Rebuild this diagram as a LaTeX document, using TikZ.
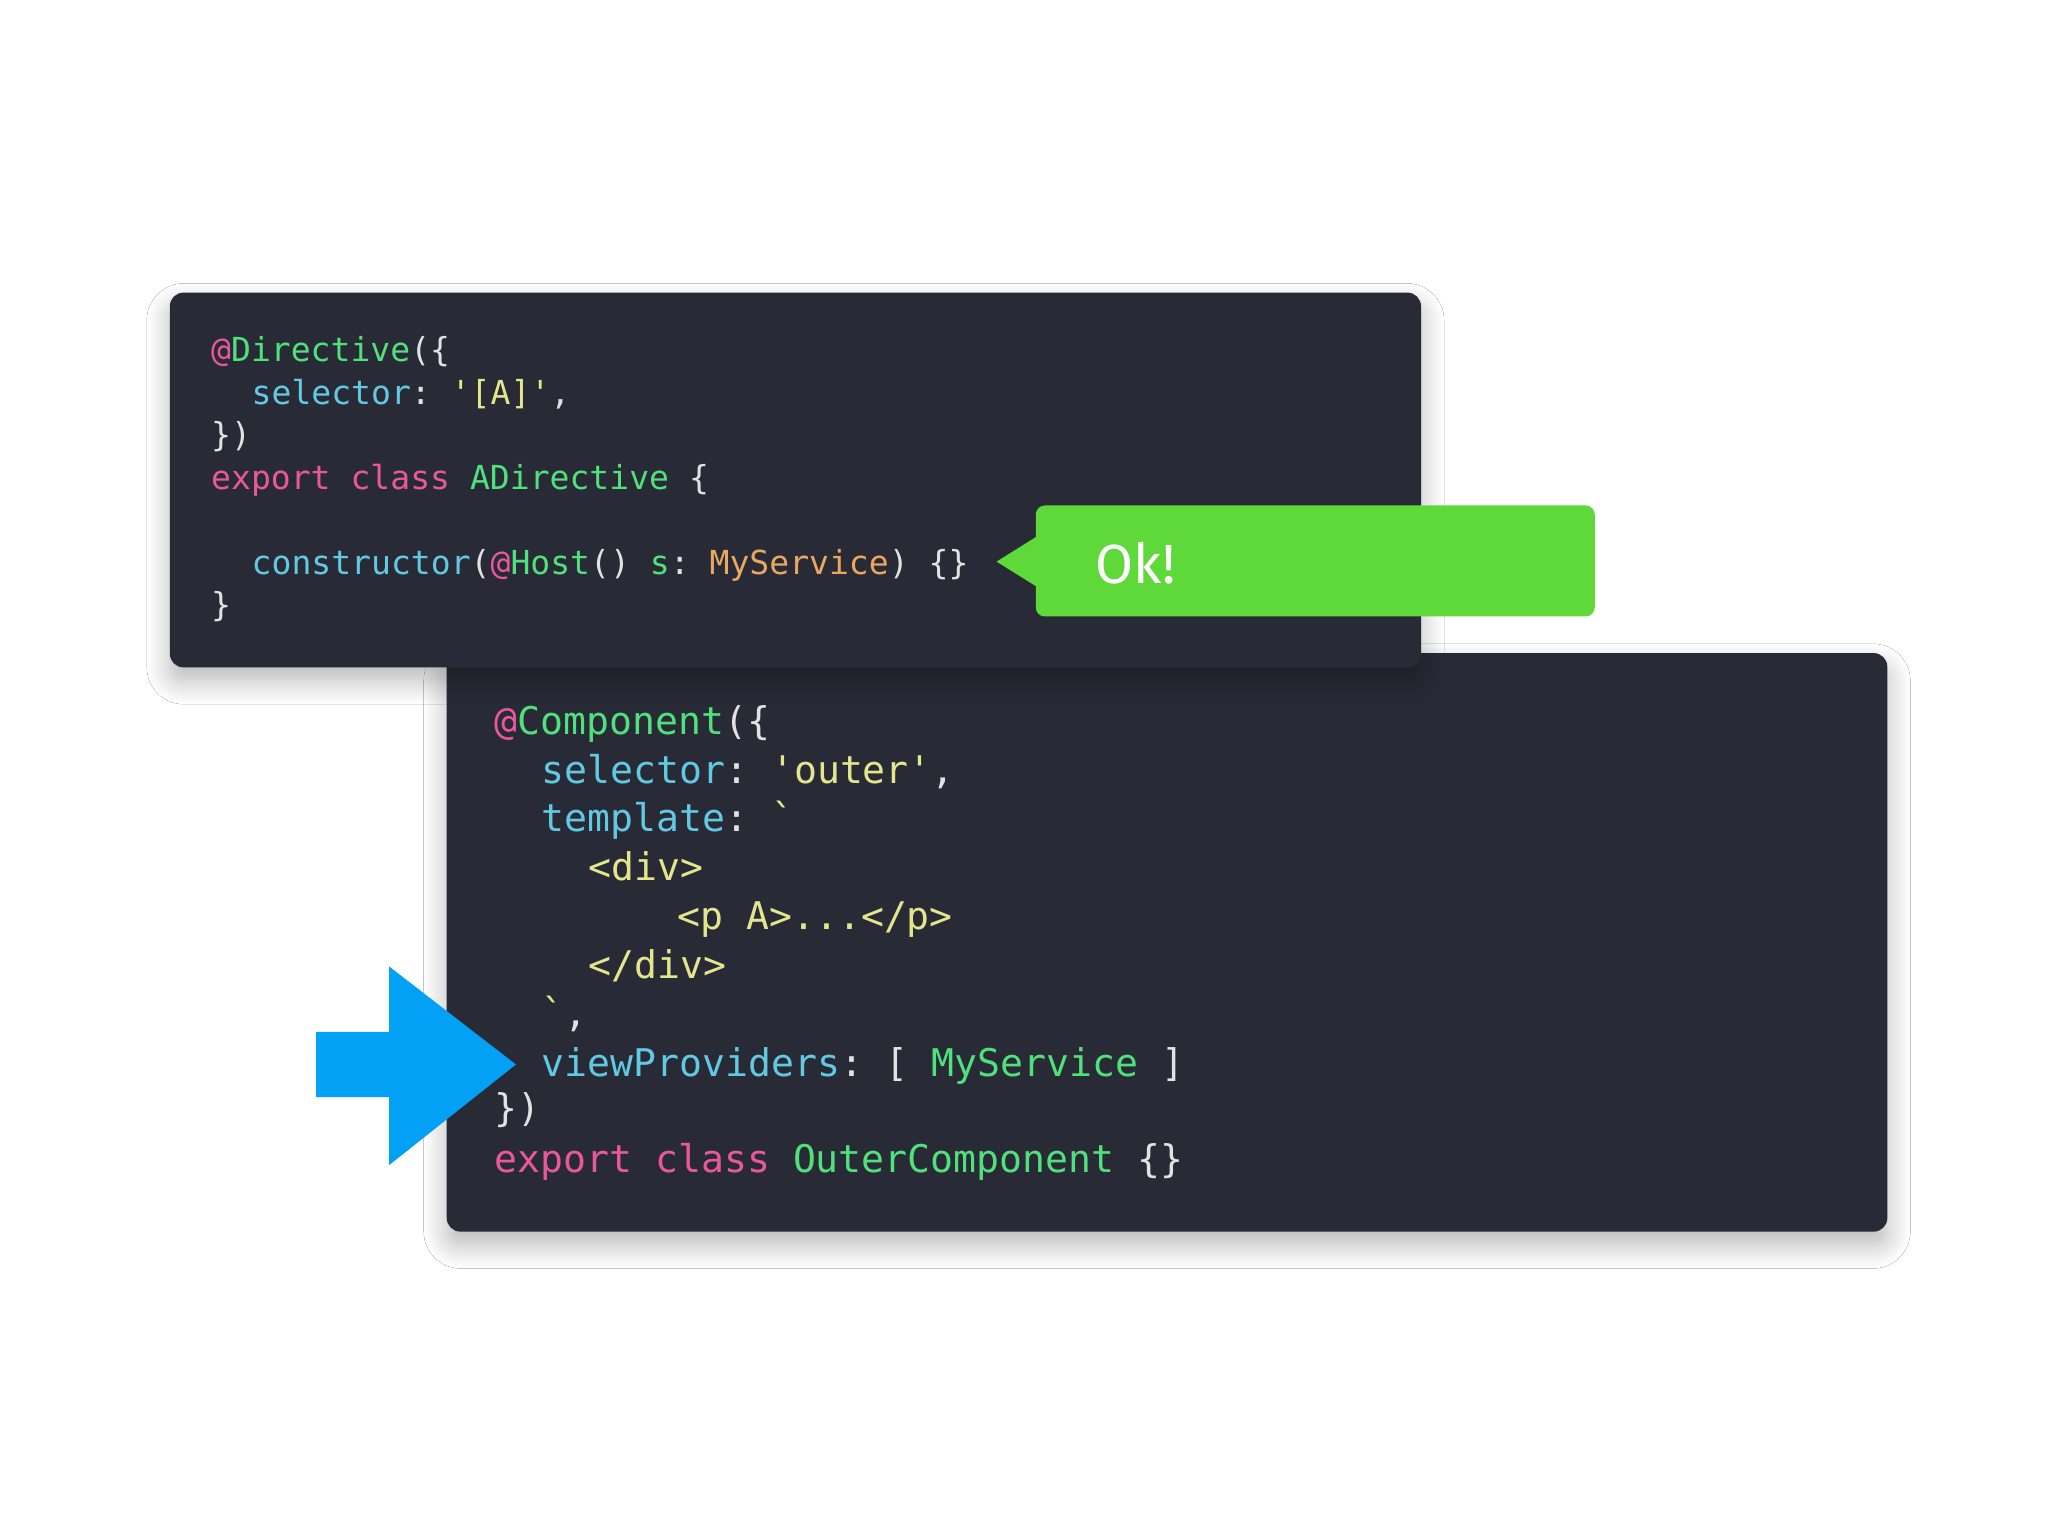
\documentclass[tikz,border=0pt]{standalone}
\usepackage{fontspec}
\setmonofont{DejaVu Sans Mono}
\setsansfont{Fira Sans}
\usetikzlibrary{shadows.blur}
\definecolor{bg}{HTML}{282A36}
\definecolor{cpk}{HTML}{E9579C}
\definecolor{cgr}{HTML}{50E07C}
\definecolor{ccy}{HTML}{62C9E2}
\definecolor{cye}{HTML}{E3E68C}
\definecolor{cor}{HTML}{E8A862}
\definecolor{cwh}{HTML}{E2E2E2}
\definecolor{okg}{HTML}{5FD83A}
\definecolor{arb}{HTML}{03A1F6}
\newcommand{\kPk}[1]{\textcolor{cpk}{#1}}
\newcommand{\kGr}[1]{\textcolor{cgr}{#1}}
\newcommand{\kCy}[1]{\textcolor{ccy}{#1}}
\newcommand{\kYe}[1]{\textcolor{cye}{#1}}
\newcommand{\kOr}[1]{\textcolor{cor}{#1}}
\newcommand{\kq}{\symbol{39}}
\newcommand{\kbt}{\symbol{96}}
\tikzset{
 codebox/.style={fill=bg,rounded corners=3pt,blur shadow={shadow xshift=0pt,shadow yshift=-3pt,shadow blur radius=5pt,shadow blur steps=10,shadow opacity=28}},
 tcode/.style={anchor=base west,inner sep=0pt,font=\ttfamily\fontsize{7.2}{8}\selectfont,text=cwh},
 bcode/.style={anchor=base west,inner sep=0pt,font=\ttfamily\fontsize{8.3}{9}\selectfont,text=cwh},
}
\begin{document}
\begin{tikzpicture}[x=0.01cm,y=-0.01cm]
\fill[white] (0,0) rectangle (1568,1176);
\useasboundingbox (0,0) rectangle (1568,1176);
% bottom box
\path[codebox] (342,500) rectangle (1445,943);
\node[bcode] (b1) at (378,562) {\kPk{@}\kGr{Component}(\{};
\node[bcode] (b2) at (414,600) {\kCy{selector}: \kYe{\kq outer\kq},};
\node[bcode] (b3) at (414,637) {\kCy{template}: \kYe{\kbt}};
\node[bcode] (b4) at (450,674) {\kYe{<div>}};
\node[bcode] (b5) at (518,712) {\kYe{<p A>...</p>}};
\node[bcode] (b6) at (450,749) {\kYe{</div>}};
\node[bcode] (b7) at (414,786) {\kYe{\kbt},};
\node[bcode] (b8) at (414,824) {\kCy{viewProviders}: [ \kGr{MyService} ]};
\node[bcode] (b9) at (378,859) {\})};
\node[bcode] (b10) at (378,898) {\kPk{export class} \kGr{OuterComponent} \{\}};
% top box
\path[codebox] (130,224) rectangle (1088,511);
\node[tcode] (t1) at (161,277) {\kPk{@}\kGr{Directive}(\{};
\node[tcode] (t2) at (192,310) {\kCy{selector}: \kYe{\kq[A]\kq},};
\node[tcode] (t3) at (161,342) {\})};
\node[tcode] (t4) at (161,375) {\kPk{export class} \kGr{ADirective} \{};
\node[tcode] (t5) at (192,440) {\kCy{constructor}(\kPk{@}\kGr{Host}() \kGr{s}: \kOr{MyService}) \{\}};
\node[tcode] (t6) at (161,472) {\}};
% Ok callout
\fill[okg,rounded corners=2pt] (793,387) rectangle (1221,472);
\fill[okg] (763,430) -- (795,410) -- (795,450) -- cycle;
\node[anchor=west,text=white,font=\sffamily\fontsize{12}{14}\selectfont,inner sep=0pt] (ok) at (838,431) {Ok!};
% blue arrow
\fill[arb] (242,790) -- (298,790) -- (298,740) -- (395,815) -- (298,892) -- (298,840) -- (242,840) -- cycle;
\end{tikzpicture}
\end{document}
